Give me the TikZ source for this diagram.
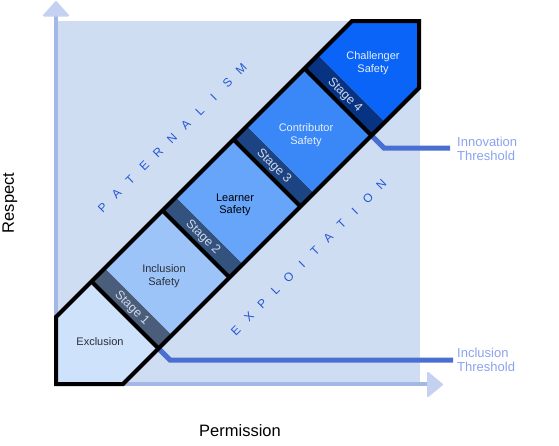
\documentclass[tikz,border=0pt]{standalone}
\usepackage{fontspec}
\setmainfont{Liberation Sans}
\definecolor{bgc}{HTML}{CEDDF2}
\definecolor{axisline}{HTML}{A3B8E6}
\definecolor{axishead}{HTML}{C5D1F1}
\definecolor{exclc}{HTML}{CFE2FB}
\definecolor{inclc}{HTML}{9DC4F8}
\definecolor{learnc}{HTML}{66A5FA}
\definecolor{contribc}{HTML}{3A88F7}
\definecolor{challc}{HTML}{0A64F7}
\definecolor{stA}{HTML}{4A5E7C}
\definecolor{stB}{HTML}{33527E}
\definecolor{stC}{HTML}{1D4482}
\definecolor{stD}{HTML}{083383}
\definecolor{stagetext}{HTML}{D0D8E8}
\definecolor{darktext}{HTML}{2A2F38}
\definecolor{lighttext}{HTML}{E6EEFC}
\definecolor{thrline}{HTML}{4A6FD3}
\definecolor{thrtext}{HTML}{8AA3EE}
\definecolor{diagtext}{HTML}{2456D6}
\begin{document}
\begin{tikzpicture}[x=1pt,y=-1pt,
  bandline/.style={line width=4pt,black,line join=miter,line cap=rect},
  seglbl/.style={inner sep=0pt,align=center,font=\fontsize{11}{12.5}\selectfont},
  stagelbl/.style={inner sep=0pt,text=stagetext,font=\fontsize{12.5}{14}\selectfont,rotate=-45},
  thrlbl/.style={inner sep=0pt,align=left,anchor=west,text=thrtext,font=\fontsize{13}{14}\selectfont},
  thr/.style={line width=5pt,thrline,line join=miter},
  diaglbl/.style={inner sep=0pt,text=diagtext,font=\fontsize{12}{13}\selectfont,rotate=45},
  axislbl/.style={inner sep=0pt,text=black,font=\fontsize{16.5}{18}\selectfont},
  axis/.style={line width=4pt,axisline},
  head/.style={fill=axishead,draw=axishead,line width=2pt,line join=round}]
\useasboundingbox (0,0) rectangle (559,445);
% background
\fill[bgc] (56,21) rectangle (420,384);
% axes
\coordinate (O) at (56,384);
\coordinate (ytop) at (56,16);
\coordinate (xend) at (427,384);
\draw[axis] (O) -- (ytop);
\draw[axis] (O) -- (xend);
\filldraw[head] (56,2) -- (44,15.5) -- (68,15.5) -- cycle;
\filldraw[head] (442,384.5) -- (428,373) -- (428,396) -- cycle;
% band coordinates
\coordinate (A) at (56,317);
\coordinate (T1) at (56,384);
\coordinate (B) at (123,384);
\coordinate (C) at (352,21);
\coordinate (T2) at (419,21);
\coordinate (D) at (419,88);
\coordinate (U1) at (91.5,281.5);  \coordinate (L1) at (158.5,348.5);
\coordinate (U1s) at (105,268);    \coordinate (L1s) at (172,335);
\coordinate (U2) at (162.5,210.5); \coordinate (L2) at (229.5,277.5);
\coordinate (U2s) at (176,197);    \coordinate (L2s) at (243,264);
\coordinate (U3) at (233.5,139.5); \coordinate (L3) at (300.5,206.5);
\coordinate (U3s) at (247,126);    \coordinate (L3s) at (314,193);
\coordinate (U4) at (304.5,68.5);  \coordinate (L4) at (371.5,135.5);
\coordinate (U4s) at (318,55);     \coordinate (L4s) at (385,122);
% threshold connectors
\node[thrlbl] (innov) at (457,149) {Innovation\\Threshold};
\node[thrlbl] (inclth) at (457,359.5) {Inclusion\\Threshold};
\coordinate (k1) at (384,148);
\coordinate (e1) at (450,148);
\coordinate (k2) at (170,360);
\coordinate (e2) at (453,360);
\draw[thr] (L4) -- (k1) -- (e1);
\draw[thr] (L1) -- (k2) -- (e2);
% segment fills
\fill[exclc] (A) -- (T1) -- (B) -- (L1) -- (U1) -- cycle;
\fill[stA] (U1) -- (L1) -- (L1s) -- (U1s) -- cycle;
\fill[inclc] (U1s) -- (L1s) -- (L2) -- (U2) -- cycle;
\fill[stB] (U2) -- (L2) -- (L2s) -- (U2s) -- cycle;
\fill[learnc] (U2s) -- (L2s) -- (L3) -- (U3) -- cycle;
\fill[stC] (U3) -- (L3) -- (L3s) -- (U3s) -- cycle;
\fill[contribc] (U3s) -- (L3s) -- (L4) -- (U4) -- cycle;
\fill[stD] (U4) -- (L4) -- (L4s) -- (U4s) -- cycle;
\fill[challc] (U4s) -- (L4s) -- (D) -- (T2) -- (C) -- cycle;
% outlines
\draw[bandline] (A) -- (T1) -- (B) -- (D) -- (T2) -- (C) -- cycle;
\draw[bandline,line cap=butt] (U1) -- (L1);
\draw[bandline,line cap=butt] (U2) -- (L2);
\draw[bandline,line cap=butt] (U3) -- (L3);
\draw[bandline,line cap=butt] (U4) -- (L4);
% segment labels
\node[seglbl,text=darktext] (excl) at (100,342) {Exclusion};
\node[seglbl,text=darktext] (incl) at (164,276) {Inclusion\\Safety};
\node[seglbl,text=black] (learn) at (235,205) {Learner\\Safety};
\node[seglbl,text=lighttext] (contrib) at (306,135) {Contributor\\Safety};
\node[seglbl,text=lighttext] (chall) at (373,63) {Challenger\\Safety};
% stage labels
\node[stagelbl] (sA) at (131.75,308.25) {Stage 1};
\node[stagelbl] (sB) at (202.75,237.25) {Stage 2};
\node[stagelbl] (sC) at (273.75,166.25) {Stage 3};
\node[stagelbl] (sD) at (344.75,95.25) {Stage 4};
% diagonal region labels, letter by letter
\foreach \l [count=\i from 0] in {P,A,T,E,R,N,A,L,I,S,M}
  \node[diaglbl] (pat\i) at ({172+(\i-5)*13.86},{138.5-(\i-5)*13.86}) {\l};
\foreach \l [count=\i from 0] in {E,X,P,L,O,I,T,A,T,I,O,N}
  \node[diaglbl] (exp\i) at ({308.5+(\i-5.5)*13.24},{257.5-(\i-5.5)*13.24}) {\l};
% axis labels
\node[axislbl,rotate=90] (resp) at (10,203) {Respect};
\node[axislbl] (perm) at (240,431) {Permission};
\end{tikzpicture}
\end{document}
